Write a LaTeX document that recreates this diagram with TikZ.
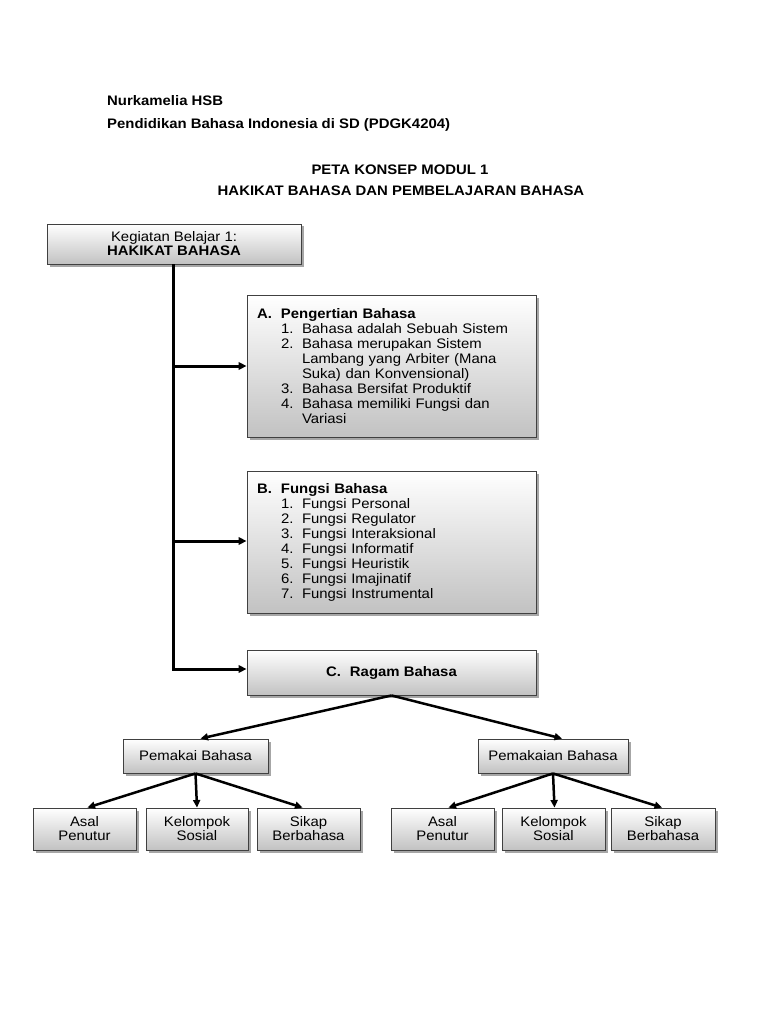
\documentclass[tikz,border=0pt]{standalone}
\usepackage{fontspec}
\setmainfont{Liberation Sans}[FakeStretch=1.08]
\usetikzlibrary{arrows.meta,shadows,calc}
\newcommand\myfs{\fontsize{13.8}{15}\selectfont}
\newcommand\myfsb{\fontsize{13.8}{14}\selectfont}
\newcommand\hdl[2]{\makebox[24pt][l]{\bfseries #1}\textbf{#2}}
\newcommand\itm[2]{\hspace*{24pt}\makebox[21pt][l]{#1}#2}
\newcommand\cnt[1]{\hspace*{45pt}#1}
\begin{document}
\begin{tikzpicture}[x=1pt,y=-1pt,
  box/.style={draw=black!75, line width=0.9pt, top color=white, bottom color=black!24,
    drop shadow={shadow xshift=2.5pt,shadow yshift=-2.5pt,opacity=0.35,fill=black},
    inner sep=0pt, align=center, font=\myfsb},
  listbox/.style={box, align=left, font=\myfs, inner xsep=10pt, text width=269pt},
  arr/.style={line width=3pt, line join=miter, -{Triangle[length=8pt,width=7.5pt]}},
  tarr/.style={line width=2.5pt, -{Triangle[length=7.5pt,width=7pt]}},
  lbl/.style={inner sep=0pt, font=\myfs}
]
\useasboundingbox (0,0) rectangle (768,1024);
\fill[white] (0,0) rectangle (768,1024);

% header texts
\node[lbl, anchor=base west] (t1) at (107,106) {\bfseries Nurkamelia HSB};
\node[lbl, anchor=base west] (t2) at (107,129) {\bfseries Pendidikan Bahasa Indonesia di SD (PDGK4204)};
\node[lbl, anchor=base] (t3) at (400,175) {\bfseries PETA KONSEP MODUL 1};
\node[lbl, anchor=base] (t4) at (401,196) {\bfseries HAKIKAT BAHASA DAN PEMBELAJARAN BAHASA};

% main boxes
\node[box, minimum width=254pt, minimum height=40pt] (k1) at (174,244)
  {Kegiatan Belajar 1:\\\textbf{HAKIKAT BAHASA}};

\node[listbox, minimum height=142pt] (A) at (391.5,366) {%
\hdl{A.}{Pengertian Bahasa}\\
\itm{1.}{Bahasa adalah Sebuah Sistem}\\
\itm{2.}{Bahasa merupakan Sistem}\\
\cnt{Lambang yang Arbiter (Mana}\\
\cnt{Suka) dan Konvensional)}\\
\itm{3.}{Bahasa Bersifat Produktif}\\
\itm{4.}{Bahasa memiliki Fungsi dan}\\
\cnt{Variasi}};

\node[listbox, minimum height=142pt] (B) at (391.5,542) {%
\hdl{B.}{Fungsi Bahasa}\\
\itm{1.}{Fungsi Personal}\\
\itm{2.}{Fungsi Regulator}\\
\itm{3.}{Fungsi Interaksional}\\
\itm{4.}{Fungsi Informatif}\\
\itm{5.}{Fungsi Heuristik}\\
\itm{6.}{Fungsi Imajinatif}\\
\itm{7.}{Fungsi Instrumental}};

\node[box, minimum width=289pt, minimum height=45pt] (C) at (391.5,672.5)
  {\textbf{C.\hspace{9pt}Ragam Bahasa}};

% second level
\node[box, minimum width=145pt, minimum height=34pt] (P1) at (195.5,756) {Pemakai Bahasa};
\node[box, minimum width=150pt, minimum height=34pt] (P2) at (553,756) {Pemakaian Bahasa};

% third level
\node[box, minimum width=103pt, minimum height=42pt] (L1) at (84.5,829) {Asal\\Penutur};
\node[box, minimum width=102pt, minimum height=42pt] (L2) at (197,829) {Kelompok\\Sosial};
\node[box, minimum width=103pt, minimum height=42pt] (L3) at (308.5,829) {Sikap\\Berbahasa};
\node[box, minimum width=103pt, minimum height=42pt] (R1) at (442.5,829) {Asal\\Penutur};
\node[box, minimum width=103pt, minimum height=42pt] (R2) at (553.5,829) {Kelompok\\Sosial};
\node[box, minimum width=104pt, minimum height=42pt] (R3) at (663,829) {Sikap\\Berbahasa};

% trunk connectors
\coordinate (jA) at (173,366);
\coordinate (jB) at (173,541);
\coordinate (jC) at (173,669);
\draw[arr] (k1.south -| jC) -- (jC) -- (jC -| C.west);
\draw[arr] (jA) -- (A.west);
\draw[arr] (jB) -- (jB -| B.west);

% tree connectors
\draw[tarr] (C.south) -- ([xshift=5pt]P1.north);
\draw[tarr] (C.south) -- ([xshift=9pt]P2.north);
\draw[tarr] (P1.south) -- ([xshift=3pt]L1.north);
\draw[tarr] (P1.south) -- (L2.north);
\draw[tarr] (P1.south) -- ([xshift=-6pt]L3.north);
\draw[tarr] (P2.south) -- ([xshift=6pt]R1.north);
\draw[tarr] (P2.south) -- ([xshift=1pt]R2.north);
\draw[tarr] (P2.south) -- ([xshift=-1pt]R3.north);
\end{tikzpicture}
\end{document}
